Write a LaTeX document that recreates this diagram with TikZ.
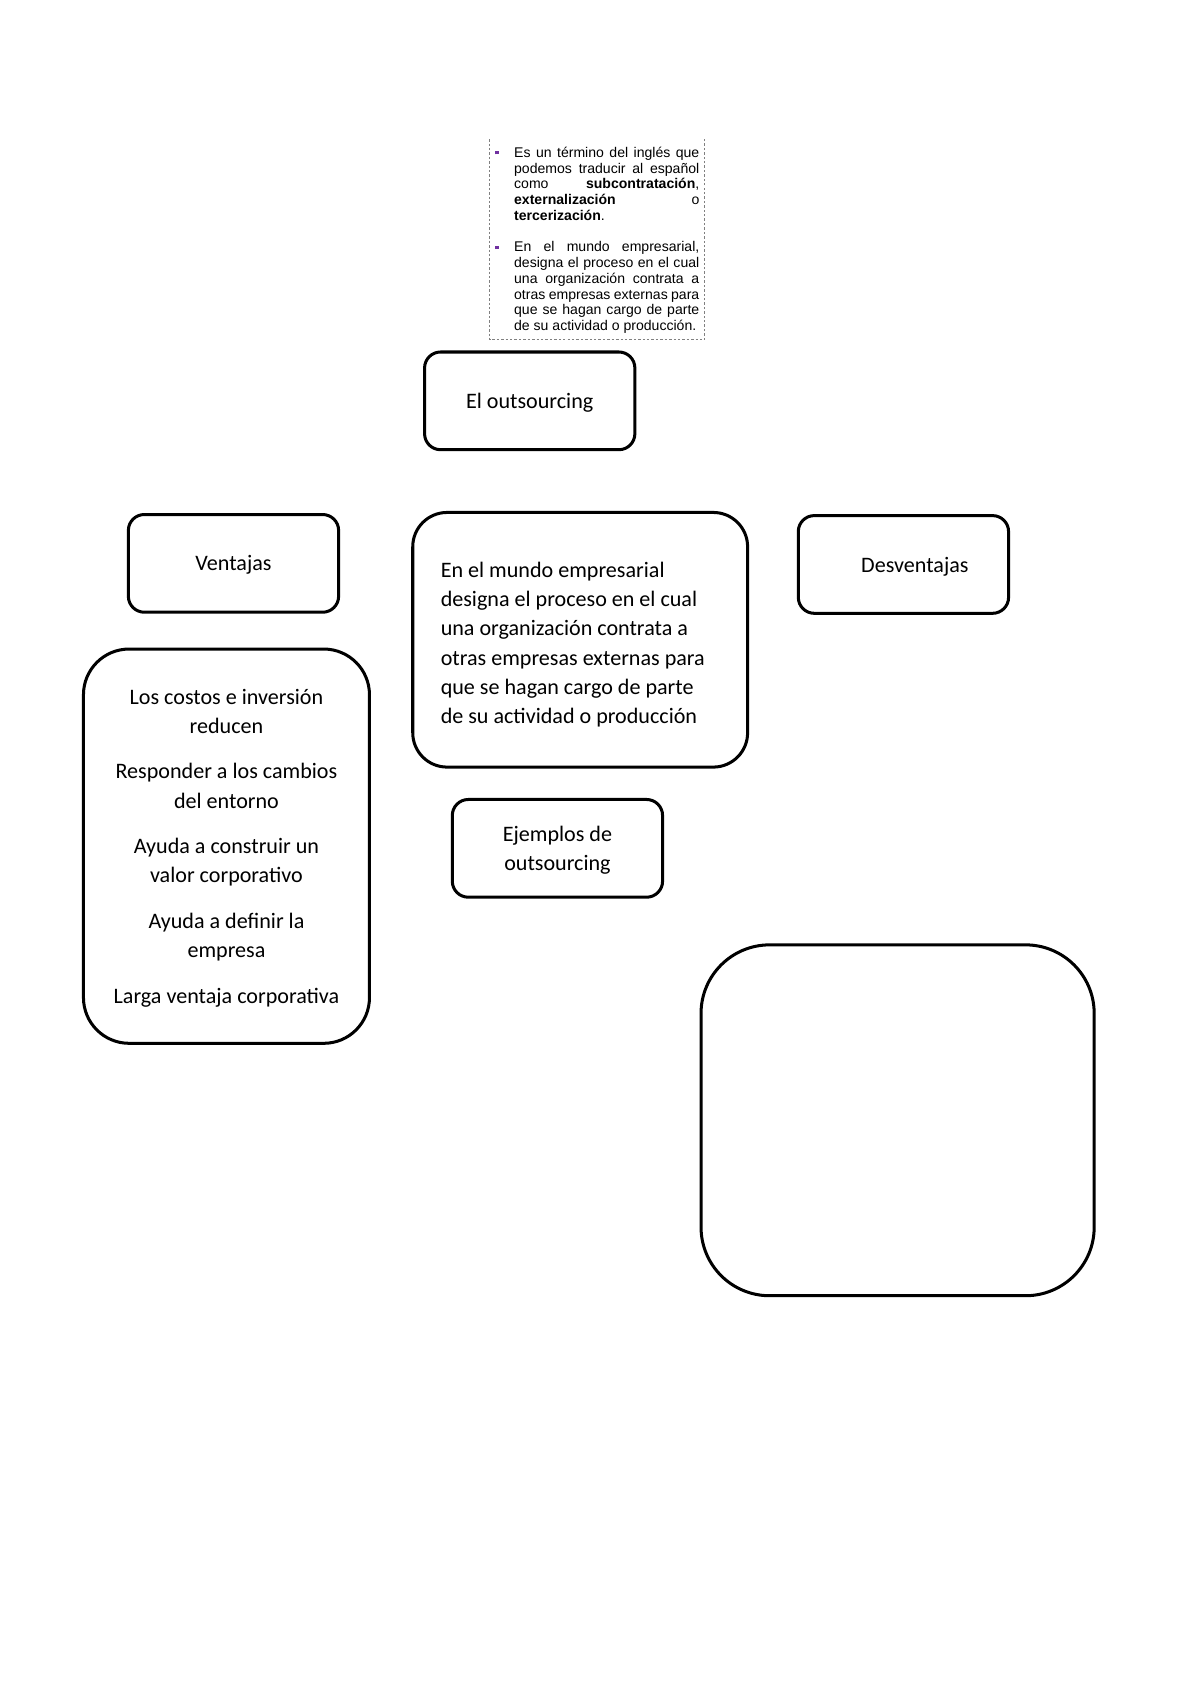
\documentclass[tikz,border=0pt]{standalone}
\usepackage{fontspec}
\setmainfont{Carlito}
\newfontfamily\notefont{Liberation Sans}
\usetikzlibrary{positioning}
\definecolor{bulletpurple}{RGB}{112,48,160}
\newcommand{\jline}[1]{\makebox[\hsize][s]{#1}\\}
\newcommand{\notebullet}{\llap{\textcolor{bulletpurple}{\rule[0.2em]{0.25em}{0.25em}}\hspace{0.27cm}}}

\begin{document}
\begin{tikzpicture}[node distance =1.3 cm and 0.5cm ,on grid ,
box/.style ={ rectangle ,draw ,line width =1.5pt ,rounded corners =0.28cm ,
inner sep =0pt ,minimum width =3.68cm ,minimum height =1.71cm ,align =center ,
text depth =-0.4pt ,font =\fontsize{11pt}{14.5pt}\selectfont},
bigbox/.style ={ box ,rounded corners =0.8cm},
note/.style ={ inner sep =0pt ,text width =3.24cm ,align =flush left ,
font =\notefont\fontsize{7pt}{7.85pt}\selectfont},
notedash/.style ={ gray ,line width =0.5pt ,dash pattern =on 1.2pt off 1pt}]

\useasboundingbox (0,0) rectangle (21,-29.715);

\node[box] (Outsourcing) at (9.27,-7.015) {El outsourcing};
\node[box] (Ventajas) [below left=2.844cm and 5.184cm of Outsourcing] {Ventajas};
\node[box] (Desventajas) [below right=2.863cm and 6.54cm of Outsourcing] {\hspace*{0.4cm}Desventajas};
\node[bigbox ,rounded corners =0.6cm ,minimum width =5.86cm ,minimum height =4.456cm ,
text width =4.88cm ,inner xsep =0.49cm ,align =flush left ,text depth =] (Mundo)
[below right=4.181cm and 0.883cm of Outsourcing]
{\rule{0pt}{12.5pt}En el mundo empresarial\\ designa el proceso en el cual\\ una organización contrata a\\
otras empresas externas para\\ que se hagan cargo de parte\\ de su actividad o producción};
\node[bigbox ,minimum width =5.005cm ,minimum height =6.9cm] (Lista)
[below left=4.949cm and 0.123cm of Ventajas]
{Los costos e inversión\\ reducen\\[0.29cm] Responder a los cambios\\ del entorno\\[0.29cm]
Ayuda a construir un\\ valor corporativo\\[0.29cm] Ayuda a definir la\\ empresa\\[0.29cm]
Larga ventaja corporativa};
\node[box] (Ejemplos) [below left=3.65cm and 0.398cm of Mundo] {Ejemplos de\\ outsourcing};
\node[bigbox ,rounded corners =1.2cm ,minimum width =6.88cm ,minimum height =6.14cm] (Vacio)
[below left=9.727cm and 0.102cm of Desventajas] {};

% recuadro de la definicion
\node[note] (Nota) [above right=2.81cm and 1.348cm of Outsourcing]
{\jline{\notebullet Es un término del inglés que}
\jline{podemos traducir al español}
\jline{como \textbf{subcontratación},}
\jline{\textbf{externalización} o}
\textbf{tercerización}.\\[7.85pt]
\jline{\notebullet En el mundo empresarial,}
\jline{designa el proceso en el cual}
\jline{una organización contrata a}
\jline{otras empresas externas para}
\jline{que se hagan cargo de parte}
de su actividad o producción.};
\draw[notedash] ([xshift=-0.42cm ,yshift=0.13cm]Nota.north west)
-- ([xshift=-0.42cm ,yshift=-0.1cm]Nota.south west)
-- ([xshift=0.09cm ,yshift=-0.1cm]Nota.south east)
-- ([xshift=0.09cm ,yshift=0.13cm]Nota.north east);
\end{tikzpicture}
\end{document}
